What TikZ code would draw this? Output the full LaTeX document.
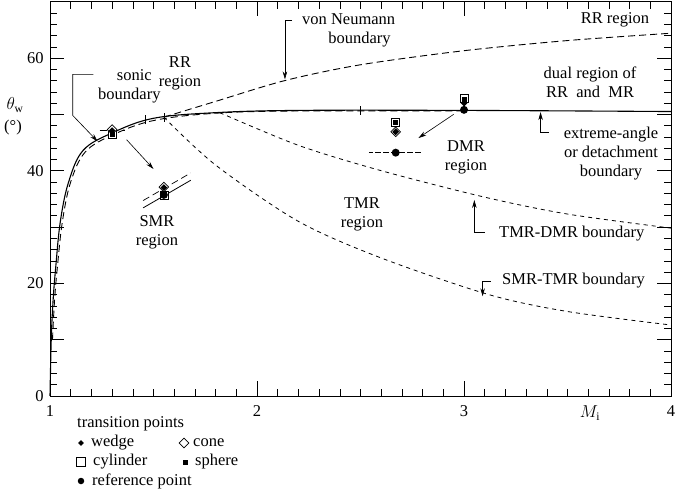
\documentclass[tikz,border=0pt]{standalone}
\usepackage{fontspec}
\setmainfont{Liberation Serif}
\usetikzlibrary{arrows.meta,shapes.geometric}
\begin{document}
\begin{tikzpicture}[x=1pt,y=1pt,font=\fontsize{16.5}{19}\selectfont,
  lbl/.style={align=center,inner sep=0pt},
  ldr/.style={line width=0.6pt},
  arr/.style={line width=0.6pt,-{Stealth[length=8pt,width=4.5pt]}},
  bnd/.style={line width=0.9pt,dash pattern=on 7pt off 4pt},
  sbnd/.style={line width=0.8pt,dash pattern=on 4pt off 4pt},
  opsq/.style={draw,fill=white,rectangle,minimum size=8pt,inner sep=0pt,line width=0.7pt},
  fsq/.style={fill=black,rectangle,minimum size=5pt,inner sep=0pt},
  opdi/.style={draw,fill=white,diamond,minimum size=10pt,inner sep=0pt,line width=0.7pt},
  fdi/.style={fill=black,diamond,minimum size=7pt,inner sep=0pt},
  fci/.style={fill=black,circle,minimum size=8pt,inner sep=0pt}]
\useasboundingbox (0,0) rectangle (685,-492);
\begin{scope}[shift={(-157pt,-396pt)},x=207pt,y=5.633pt]
% frame
\draw[line width=0.8pt] (1,0) rectangle (4,70);
\foreach \m in {1.1,1.2,...,3.95} {\draw[line width=0.5pt] (\m,0) -- ++(0,1.3); \draw[line width=0.5pt] (\m,70) -- ++(0,-1.3);}
\foreach \m in {2,3} {\draw[line width=0.6pt] (\m,0) -- ++(0,2.6); \draw[line width=0.6pt] (\m,70) -- ++(0,-2.6);}
\foreach \t in {2,4,...,68} {\draw[line width=0.5pt] (1,\t) -- ++(0.035,0); \draw[line width=0.5pt] (4,\t) -- ++(-0.035,0);}
\foreach \t in {10,20,...,60} {\draw[line width=0.6pt] (1,\t) -- ++(0.07,0); \draw[line width=0.6pt] (4,\t) -- ++(-0.07,0);}
\node[lbl,anchor=north] (x1) at (1,-1.6) {1};
\node[lbl,anchor=north] (x2) at (2,-1.6) {2};
\node[lbl,anchor=north] (x3) at (3,-1.6) {3};
\node[lbl,anchor=north] (x4) at (4,-1.6) {4};
\node[lbl,anchor=east] (y0) at (0.97,0) {0};
\node[lbl,anchor=east] (y20) at (0.97,20) {20};
\node[lbl,anchor=east] (y40) at (0.97,40) {40};
\node[lbl,anchor=east] (y60) at (0.97,60) {60};
% curves
\draw[line width=1.1pt] plot[smooth,tension=0.6] coordinates {(1,0) (1.006,10) (1.015,17) (1.028,23) (1.05,31) (1.09,38) (1.16,43.6) (1.3,46.7) (1.5,49.3) (1.8,50.3) (2.2,50.7) (3,50.7) (4,50.5)};
\draw[bnd] plot[smooth,tension=0.6] coordinates {(1.012,10) (1.022,17) (1.036,23) (1.06,31) (1.1,38) (1.17,43.3) (1.3,46.3) (1.5,48.9) (1.8,50.2) (2.2,50.6) (3,50.6)};
\draw[bnd] plot[smooth] coordinates {(1.55,49.5) (1.8,52.3) (2.135,56) (2.5,58.8) (3,61.3) (3.5,63.1) (4,64.4)};
\draw[sbnd] plot[smooth] coordinates {(1.82,50.3) (2.2,44.5) (2.6,40) (3.1,35.3) (3.5,32.3) (4,29.8)};
\draw[sbnd] plot[smooth] coordinates {(1.55,49.5) (1.8,41) (2.2,31) (2.6,24.5) (3.12,18) (3.5,15) (4,12.6)};
\foreach \m/\t in {1.46/49,1.55/49.5,2.5/50.7} \draw[line width=0.6pt] (\m,\t-0.8) -- (\m,\t+0.8);
% reference lines at markers
\draw[bnd,line width=0.7pt] (1.24,47.1) -- (1.36,47.1);
\draw[bnd,line width=0.7pt] (1.45,34.7) -- (1.68,39.6);
\draw[line width=0.8pt] (1.45,33.4) -- (1.68,38.3);
\draw[line width=1pt] (2.54,43.2) -- (2.8,43.2);
\draw[bnd,line width=1pt,white,dash pattern=on 2pt off 6pt] (2.56,43.2) -- (2.8,43.2);
% marker clusters
\node[fci] (r1) at (1.3,46.6) {};
\node[opsq] (c1) at (1.3,46.5) {};
\node[opdi] (k1) at (1.3,47.3) {};
\node[fdi] (w1) at (1.3,47.1) {};
\node[fsq] (s1) at (1.3,46.4) {};
\node[opsq] (c2) at (1.55,35.6) {};
\node[opdi] (k2) at (1.55,37.1) {};
\node[fdi] (w2) at (1.55,37) {};
\node[fci] (r2) at (1.55,35.7) {};
\node[opsq] (c3) at (3,52.8) {};
\node[fsq] (s3) at (3,52.7) {};
\node[fdi] (w3) at (3,52) {};
\node[fci] (r3) at (3,50.8) {};
\node[opsq] (c4) at (2.67,48.6) {};
\node[fsq] (s4) at (2.67,48.6) {};
\node[opdi] (k4) at (2.67,46.9) {};
\node[fdi] (w4) at (2.67,46.9) {};
\node[fci] (r4) at (2.67,43.2) {};
\coordinate (a1s) at (1.37,45.5);
\coordinate (a1e) at (1.5,40.3);
\coordinate (a2s) at (2.95,50);
\coordinate (a2e) at (2.78,45.8);
\draw[arr] (a1s) -- (a1e);
\draw[arr] (a2s) -- (a2e);
% leaders
\coordinate (vn1) at (2.17,66.7); \coordinate (vn2) at (2.135,66.7); \coordinate (vn3) at (2.135,56.2);
\draw[arr] (vn1) -- (vn2) -- (vn3);
\coordinate (sb1) at (1.21,57.1); \coordinate (sb2) at (1.11,57.1); \coordinate (sb3) at (1.11,49.8); \coordinate (sb4) at (1.23,45.2);
\draw[arr] (sb1) -- (sb2) -- (sb3) -- (sb4);
\coordinate (ex1) at (3.41,46.8); \coordinate (ex2) at (3.37,46.8); \coordinate (ex3) at (3.37,50.4);
\draw[arr] (ex1) -- (ex2) -- (ex3);
\coordinate (td1) at (3.1,29); \coordinate (td2) at (3.05,29); \coordinate (td3) at (3.05,34.8);
\draw[arr] (td1) -- (td2) -- (td3);
\coordinate (st1) at (3.13,20.4); \coordinate (st2) at (3.09,20.4); \coordinate (st3) at (3.09,17.7);
\draw[arr] (st1) -- (st2) -- (st3);
\end{scope}
% texts in pixel coordinates
\node[lbl] (rr1) at (180,-73) {RR\\region};
\node[lbl,anchor=west] (vn) at (302,-30) {von Neumann\\\hspace*{1.3em}boundary};
\node[lbl] (rr2) at (615,-20) {RR region};
\node[lbl] (dual) at (590,-82) {dual region of\\RR\enspace and\enspace MR};
\node[lbl,anchor=west] (sb) at (98,-86) {\hspace*{0.6em}sonic\\boundary};
\node[lbl] (smr) at (157,-232) {SMR\\region};
\node[lbl] (dmr) at (466,-157) {DMR\\region};
\node[lbl] (tmr) at (362,-214) {TMR\\region};
\node[lbl] (ex) at (611,-154) {extreme-angle\\or detachment\\boundary};
\node[lbl,anchor=west] (td) at (499,-234) {TMR-DMR boundary};
\node[lbl,anchor=west] (st) at (502,-281) {SMR-TMR boundary};
\node[lbl] (th) at (15,-105) {$\theta_{\mathrm{w}}$};
\node[lbl] (deg) at (13,-128) {(°)};
\node[lbl] (mi) at (590,-413) {$M_{\mathrm{i}}$};
% legend
\node[lbl,anchor=west] (lt) at (77,-424) {transition points};
\node[fdi,minimum size=6pt] (lw) at (81,-443) {};
\node[lbl,anchor=west] (lwt) at (91,-443) {wedge};
\node[opdi,minimum size=10pt] (lk) at (184,-443) {};
\node[lbl,anchor=west] (lkt) at (193,-443) {cone};
\node[opsq,minimum size=9pt] (lc) at (81,-462) {};
\node[lbl,anchor=west] (lct) at (93,-462) {cylinder};
\node[fsq] (ls) at (185,-462) {};
\node[lbl,anchor=west] (lst) at (195,-462) {sphere};
\node[fci,minimum size=6.5pt] (lr) at (81,-481) {};
\node[lbl,anchor=west] (lrt) at (92,-481) {reference point};
\end{tikzpicture}
\end{document}
